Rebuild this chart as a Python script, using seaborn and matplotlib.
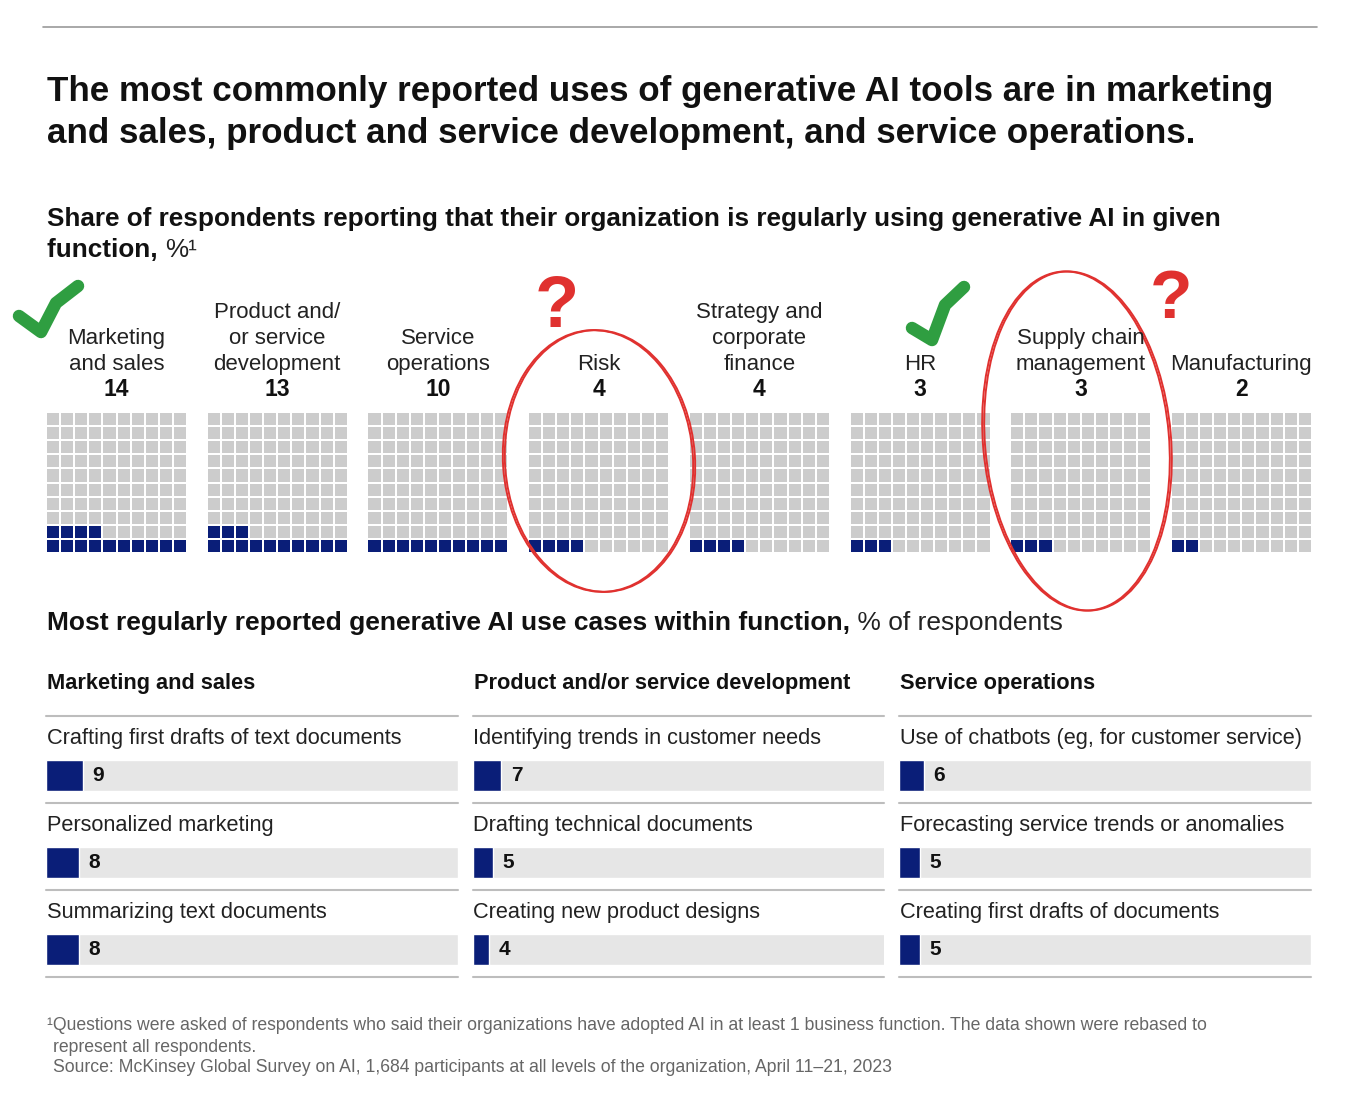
import numpy as np
import matplotlib.pyplot as plt
import seaborn as sns
from matplotlib.colors import ListedColormap
from matplotlib.patches import Ellipse

# --- data ---
functions = ['Marketing\nand sales', 'Product and/\nor service\ndevelopment', 'Service\noperations',
             'Risk', 'Strategy and\ncorporate\nfinance', 'HR', 'Supply chain\nmanagement', 'Manufacturing']
shares = [14, 13, 10, 4, 4, 3, 3, 2]

group_titles = ['Marketing and sales', 'Product and/or service development', 'Service operations']
marketing_cases = ['Crafting first drafts of text documents', 'Personalized marketing', 'Summarizing text documents']
marketing_values = [9, 8, 8]
product_cases = ['Identifying trends in customer needs', 'Drafting technical documents', 'Creating new product designs']
product_values = [7, 5, 4]
service_cases = ['Use of chatbots (eg, for customer service)', 'Forecasting service trends or anomalies',
                 'Creating first drafts of documents']
service_values = [6, 5, 5]

NAVY = '#0a1e78'
GREY = '#cccccc'
LIGHT = '#e6e6e6'
W, H = 1358, 1096

sns.set_theme(style='white')
plt.rcParams['font.family'] = ['Liberation Sans', 'DejaVu Sans']

fig = plt.figure(figsize=(W / 100, H / 100), dpi=100)


def px_axes(x, y, w, h):
    return fig.add_axes([x / W, 1 - (y + h) / H, w / W, h / H])


# waffle charts, 10 x 10 cells, filled from bottom-left
for i, val in enumerate(shares):
    grid = np.zeros((10, 10))
    for k in range(val):
        grid[9 - k // 10, k % 10] = 1
    ax = px_axes(46 + i * 160.7, 412, 141, 141)
    sns.heatmap(grid, cmap=ListedColormap([GREY, NAVY]), vmin=0, vmax=1, cbar=False,
                linewidths=1.1, linecolor='white', ax=ax)
    ax.set_xticks([])
    ax.set_yticks([])

# use-case bars
groups = [(marketing_cases, marketing_values), (product_cases, product_values), (service_cases, service_values)]
for g, (cases, values) in enumerate(groups):
    ax = px_axes(46 + g * 426.5, 716, 412, 261)
    sns.barplot(x=[100] * 3, y=cases, orient='h', color=LIGHT, width=0.356, ax=ax, saturation=1)
    sns.barplot(x=values, y=cases, orient='h', color=NAVY, width=0.356, ax=ax, saturation=1)
    ax.set_xlim(0, 100)
    ax.set_ylim(2.316, -0.684)
    for i, (lab, v) in enumerate(zip(cases, values)):
        ax.text(0.2, i - 0.43, lab, va='center', ha='left', fontsize=15.7, color='#222222')
        ax.text(v + 2.3, i, str(v), va='center', ha='left', fontsize=15, fontweight='bold', color='#111111')
        ax.axhline(i - 0.684, color='#bdbdbd', lw=1.5, clip_on=False)
    ax.axhline(2.316, color='#bdbdbd', lw=1.5, clip_on=False)
    ax.set_xlabel('')
    ax.set_ylabel('')
    ax.set_xticks([])
    ax.set_yticks([])
    sns.despine(ax=ax, left=True, bottom=True)

# overlay for text and annotations, in pixel units
ov = fig.add_axes([0, 0, 1, 1], facecolor='none')
ov.set_xlim(0, W)
ov.set_ylim(H, 0)
ov.axis('off')

ov.plot([43, 1317], [27, 27], color='#9a9a9a', lw=1.2)
ov.text(47, 91, 'The most commonly reported uses of generative AI tools are in marketing',
        fontsize=25.2, fontweight='bold', va='center', color='#111111')
ov.text(47, 134, 'and sales, product and service development, and service operations.',
        fontsize=25.2, fontweight='bold', va='center', color='#111111')

ov.text(47, 219, 'Share of respondents reporting that their organization is regularly using generative AI in given',
        fontsize=18.8, fontweight='bold', va='center', color='#111111')
t = ov.text(47, 250, 'function, ', fontsize=18.8, fontweight='bold', va='center', color='#111111')
ov.annotate('%¹', xy=(1, 0.5), xycoords=t, va='center', fontsize=18.8, color='#222222')

for i, (name, val) in enumerate(zip(functions, shares)):
    cx = 46 + i * 160.7 + 70.5
    ov.text(cx, 375, name, ha='center', va='bottom', fontsize=16, linespacing=1.32, color='#222222')
    ov.text(cx, 389, str(val), ha='center', va='center', fontsize=16.5, fontweight='bold', color='#111111')

t = ov.text(47, 623, 'Most regularly reported generative AI use cases within function,',
            fontsize=19, fontweight='bold', va='center', color='#111111')
ov.annotate(' % of respondents', xy=(1, 0.5), xycoords=t, va='center', fontsize=19, color='#222222')

for g, title in enumerate(group_titles):
    ov.text(47 + g * 426.5, 683, title, fontsize=15.7, fontweight='bold', va='center', color='#111111')

ov.text(47, 1026, '¹Questions were asked of respondents who said their organizations have adopted AI in at least 1 '
        'business function. The data shown were rebased to', fontsize=12.7, va='center', color='#666666')
ov.text(53, 1047, 'represent all respondents.', fontsize=12.7, va='center', color='#666666')
ov.text(53, 1067, 'Source: McKinsey Global Survey on AI, 1,684 participants at all levels of the organization, '
        'April 11\u201321, 2023', fontsize=12.7, va='center', color='#666666')

# hand-drawn marks
green = '#2f9e41'
red = '#e0312f'
ov.plot([19, 41, 56, 78], [316, 332, 303, 286], color=green, lw=9, solid_capstyle='round',
        solid_joinstyle='round')
ov.plot([912, 932, 945, 964], [328, 340, 305, 287], color=green, lw=9, solid_capstyle='round',
        solid_joinstyle='round')
ov.text(557, 308, '?', fontsize=52, fontweight='bold', color=red, ha='center', va='center')
ov.text(1171, 300, '?', fontsize=50, fontweight='bold', color=red, ha='center', va='center')
for dx in (0, 2):
    ov.add_patch(Ellipse((598 + dx, 461), 190, 262, angle=-4, fill=False, ec=red, lw=1.4))
    ov.add_patch(Ellipse((1076 + dx, 441), 186, 340, angle=-5, fill=False, ec=red, lw=1.4))

fig.savefig('out.png', dpi=100)
